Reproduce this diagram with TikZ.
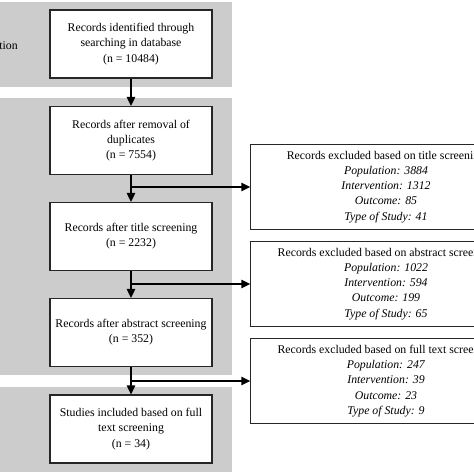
\documentclass[tikz,border=0pt]{standalone}
\usepackage{fontspec}
\setmainfont{Liberation Serif}
\usetikzlibrary{arrows.meta}
\definecolor{bandgray}{RGB}{204,204,204}

\begin{document}
\begin{tikzpicture}[x=0.02532cm,y=-0.02532cm,font=\fontsize{8.5}{10.9}\selectfont,>={Triangle[length=6.5pt,width=6pt]},
 stepbox/.style={draw=black!85,line width=0.8pt,fill=white,align=center,minimum width=4.1cm,minimum height=1.72cm,inner sep=1pt},
 exclbox/.style={draw=black!85,line width=0.8pt,fill=white,align=center,minimum width=6.84cm,minimum height=2.13cm,inner sep=1pt},
 flow/.style={->,line width=1.1pt}]
\useasboundingbox (0,0) rectangle (474,474);
\clip (0,0) rectangle (474,474);
% stage bands
\fill[bandgray] (-5,2) rectangle (232,87);
\fill[bandgray] (-5,98) rectangle (232,375);
\fill[bandgray] (-5,387) rectangle (232,472);
\node[anchor=east,inner sep=0pt] (ident) at (18,45) {Identification};
% main column
\node[stepbox] (search) at (131,44) {Records identified through\\searching in database\\(n = 10484)};
\node[stepbox] (dup) at (131,140.5) {Records after removal of\\duplicates\\(n = 7554)};
\node[stepbox] (title) at (131,236.5) {Records after title screening\\(n = 2232)};
\node[stepbox] (abstract) at (131,332.5) {Records after abstract screening\\(n = 352)};
\node[stepbox] (included) at (131,429) {Studies included based on full\\text screening\\(n = 34)};
% excluded records
\node[exclbox] (exTitle) at (386,187) {Records excluded based on title screening\\\textit{Population: 3884}\\\textit{Intervention: 1312}\\\textit{Outcome: 85}\\\textit{Type of Study: 41}};
\node[exclbox] (exAbstract) at (386,284) {Records excluded based on abstract screening\\\textit{Population: 1022}\\\textit{Intervention: 594}\\\textit{Outcome: 199}\\\textit{Type of Study: 65}};
\node[exclbox] (exFull) at (386,381) {Records excluded based on full text screening\\\textit{Population: 247}\\\textit{Intervention: 39}\\\textit{Outcome: 23}\\\textit{Type of Study: 9}};
% arrows
\draw[flow] (search) -- (dup);
\draw[flow] (dup) -- (title);
\draw[flow] (title) -- (abstract);
\draw[flow] (abstract) -- (included);
\draw[flow] (dup.south |- exTitle.west) -- (exTitle.west);
\draw[flow] (title.south |- exAbstract.west) -- (exAbstract.west);
\draw[flow] (abstract.south |- exFull.west) -- (exFull.west);
\end{tikzpicture}
\end{document}
